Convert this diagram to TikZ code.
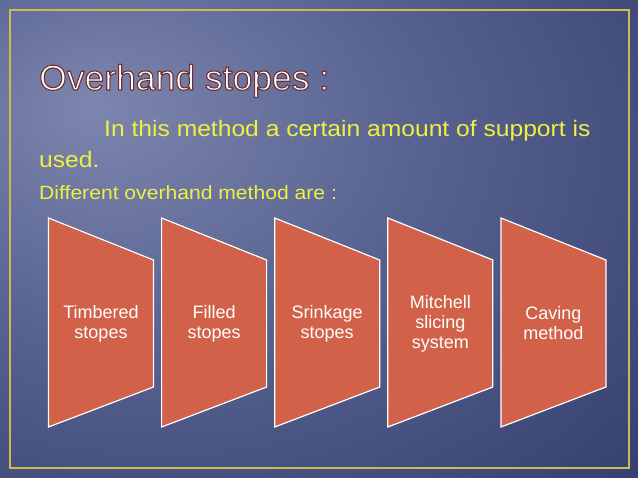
\documentclass[tikz,border=0pt]{standalone}
\usepackage{fontspec}
\setmainfont{Liberation Sans}
\newfontfamily\bodyfont[FakeStretch=1.1]{Liberation Sans}
\definecolor{bgA}{RGB}{124,134,174}
\definecolor{bgB}{RGB}{88,98,145}
\definecolor{bgC}{RGB}{44,54,102}
\definecolor{frameY}{RGB}{200,190,80}
\definecolor{txtY}{RGB}{240,240,64}
\definecolor{shapeO}{RGB}{210,97,74}
\pgfdeclareradialshading{slidebg}{\pgfpoint{-18bp}{14bp}}{%
  color(0bp)=(bgA); color(22bp)=(bgB); color(55bp)=(bgC); color(100bp)=(bgC)}
\newcommand{\outlinedtext}[1]{\special{pdf:literal direct 0.45 0.18 0.18 RG 1.1 w 1 j 2 Tr}#1\special{pdf:literal direct 0 Tr}}
\tikzset{
  stopebox/.style={fill=shapeO,draw=white,line width=1.2pt,line join=miter},
  stopetext/.style={text=white,align=center,font=\fontsize{18}{20}\selectfont,inner sep=0pt},
  bodytext/.style={text=txtY,anchor=base west,inner sep=0pt},
  titlefront/.style={text=white,anchor=base west,inner sep=0pt,font=\fontsize{35.5}{40}\selectfont}
}
\begin{document}
\begin{tikzpicture}[x=1pt,y=-1pt]
\useasboundingbox (0,0) rectangle (638,478);
\shade[shading=slidebg] (0,0) rectangle (638,478);
\draw[frameY,line width=1.5pt] (10,10) rectangle (629,468);
\node[titlefront] (title) at (39,90) {\outlinedtext{Overhand stopes :}};
% body text
\node[bodytext,font=\bodyfont\fontsize{22.4}{26}\selectfont] (l1) at (104,137) {In this method a certain amount of support is};
\node[bodytext,font=\bodyfont\fontsize{22.4}{26}\selectfont] (l2) at (39,168) {used.};
\node[bodytext,font=\bodyfont\fontsize{19.2}{23}\selectfont] (l3) at (39,200) {Different overhand method are :};
% stope shapes
\foreach \i/\txt in {0/{Timbered\\stopes},1/{Filled\\stopes},2/{Srinkage\\stopes},3/{Mitchell\\slicing\\system},4/{Caving\\method}}{
  \pgfmathsetmacro{\xl}{48.5+113.1*\i}
  \pgfmathsetmacro{\xr}{\xl+105}
  \pgfmathsetmacro{\xc}{\xl+52.5}
  \draw[stopebox] (\xl,218) -- (\xr,260) -- (\xr,387) -- (\xl,427) -- cycle;
  \node[stopetext] (s\i) at (\xc,323.5) {\txt};
}
\end{tikzpicture}
\end{document}
